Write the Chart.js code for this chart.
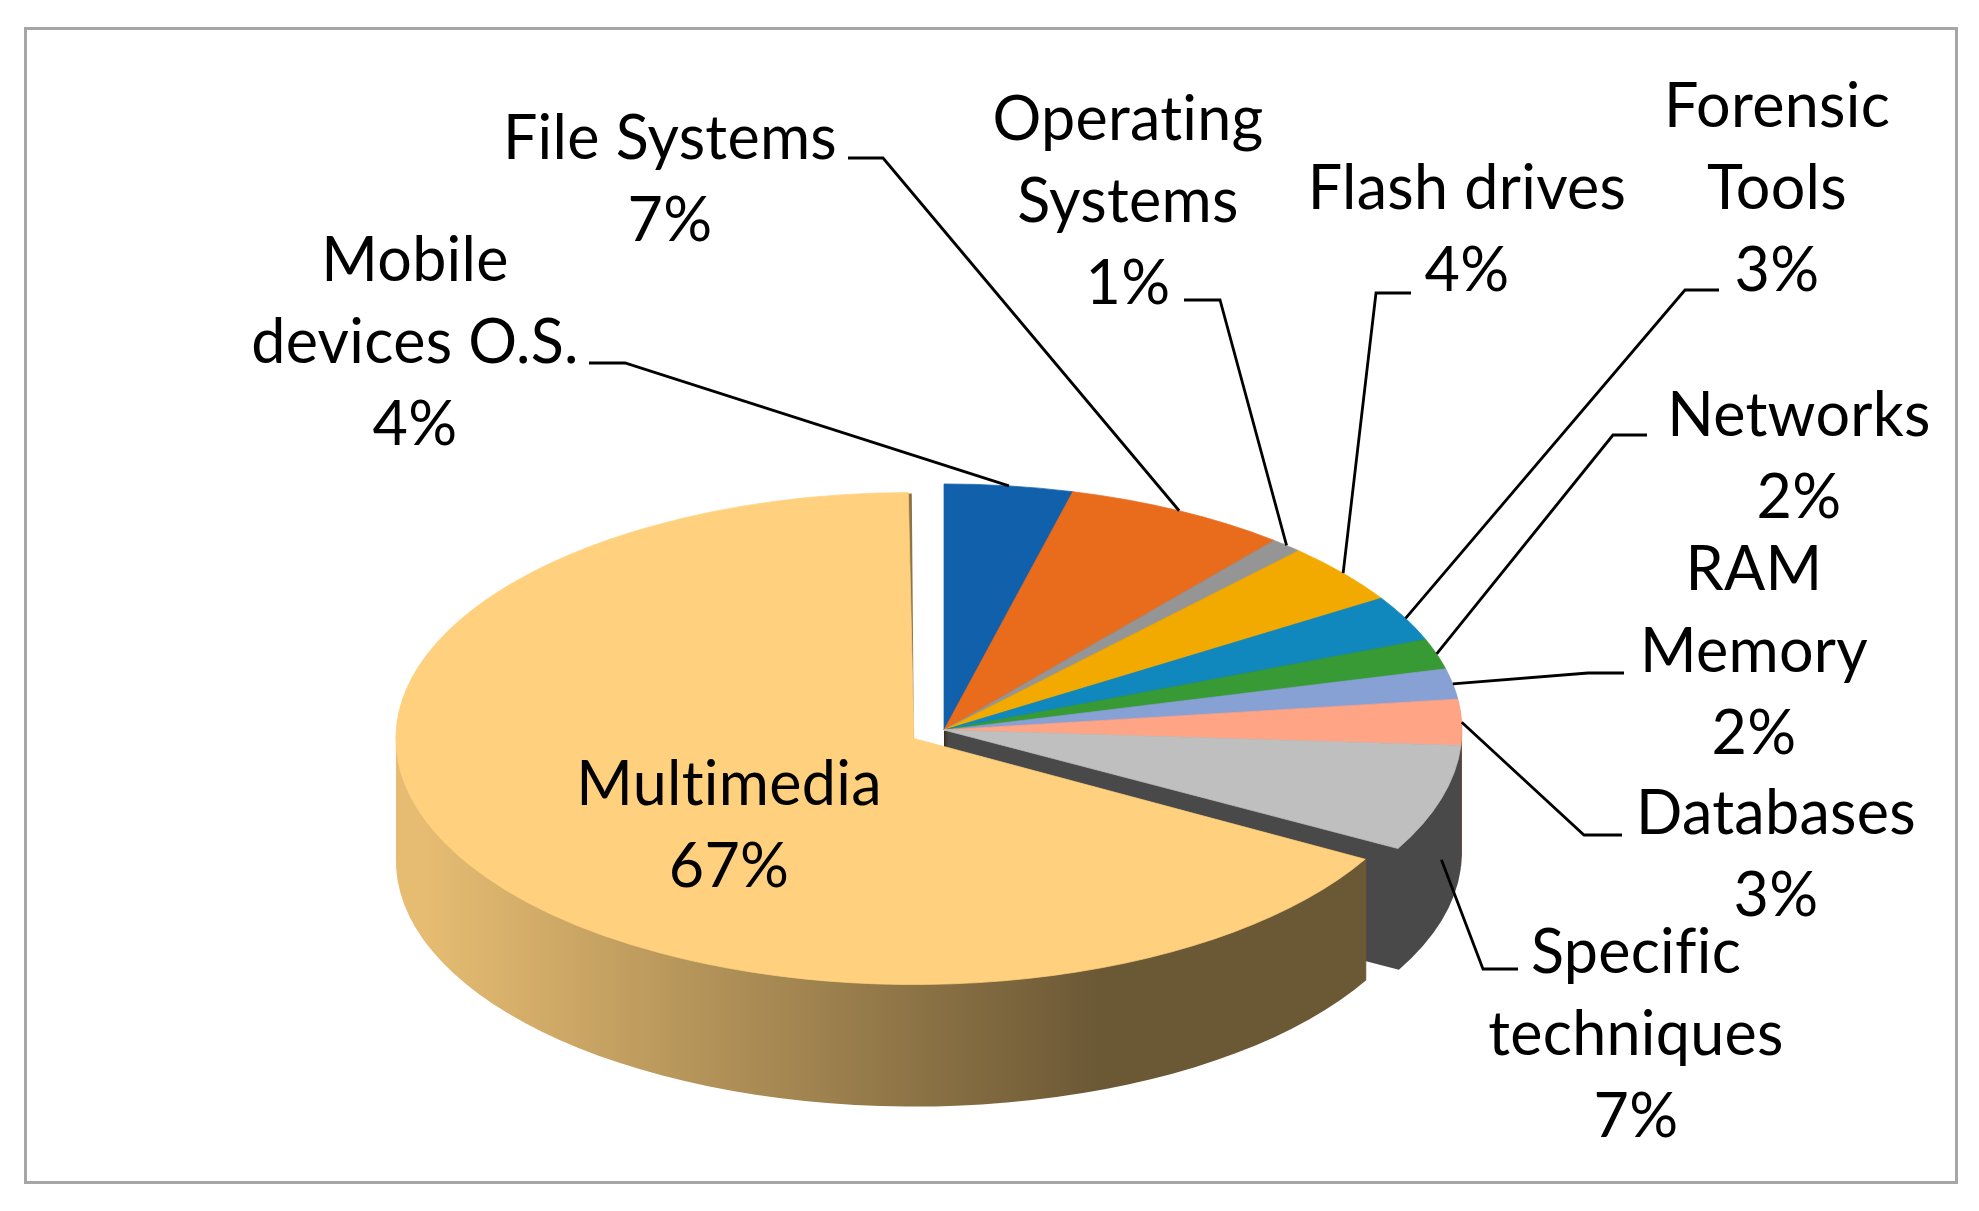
<!DOCTYPE html>
<html>
<head>
<meta charset="utf-8">
<title>Pie 3D</title>
<script src="https://cdn.jsdelivr.net/npm/chart.js@4.4.1/dist/chart.umd.min.js"></script>
<style>
  html, body { margin: 0; padding: 0; background: #fff; }
  #wrap { position: relative; width: 1979px; height: 1211px; }
  #frame {
    position: absolute; left: 24px; top: 27px; width: 1934px; height: 1157px;
    border: 3px solid #a6a6a6; box-sizing: border-box; pointer-events: none;
  }
</style>
</head>
<body>
<div id="wrap">
  <canvas id="pieChart"></canvas>
  <div id="frame"></div>
</div>
<script>
// Categories (split on the lines they are printed on) and their shares in %
const categories = [
    ['Mobile', 'devices O.S.'],
    ['File Systems'],
    ['Operating', 'Systems'],
    ['Flash drives'],
    ['Forensic', 'Tools'],
    ['Networks'],
    ['RAM', 'Memory'],
    ['Databases'],
    ['Specific', 'techniques'],
    ['Multimedia']
];
const shares = [4, 7, 1, 4, 3, 2, 2, 3, 7, 67];

const sliceColors = ['#1060AC', '#E96B1C', '#959595', '#F2AA00', '#1088BE',
                     '#389A34', '#87A1D4', '#FFA586', '#BFBFBF', '#FFD17F'];
const explode = [0, 0, 0, 0, 0, 0, 0, 0, 0, 140];

// where each label sits (centre x, centre of first line) and how its leader bends
const labelLayout = [
    { x: 415, y: 261, tail: 589, elbow: [625, 363] },
    { x: 670, y: 139, tail: 848, elbow: [883, 158] },
    { x: 1128, y: 120, tail: 1184, elbow: [1220, 300] },
    { x: 1467, y: 189, tail: 1411, elbow: [1376, 293] },
    { x: 1777, y: 107, tail: 1719, elbow: [1685, 290] },
    { x: 1799, y: 416, tail: 1647, elbow: [1613, 435] },
    { x: 1754, y: 570, tail: 1624, elbow: [1588, 673] },
    { x: 1776, y: 814, tail: 1622, elbow: [1584, 835] },
    { x: 1636, y: 953, tail: 1518, elbow: [1483, 969], drop: 0.5 },
    { x: 729, y: 785 }
];

const tilt = 0.475;   // vertical squash of the disc
const depth = 122;    // thickness of the disc on screen
const lineGap = 82;

function shade(hex, f) {
    const n = parseInt(hex.slice(1), 16);
    const r = Math.round(((n >> 16) & 255) * f);
    const g = Math.round(((n >> 8) & 255) * f);
    const b = Math.round((n & 255) * f);
    return `rgb(${r},${g},${b})`;
}

// centre and radius an arc is really drawn with (chart.js shifts exploded arcs by offset/4)
function arcGeom(arc) {
    const off = (arc.options.offset || 0) / 4;
    const fix = 1 - Math.sin(Math.min(Math.PI, arc.circumference || 0));
    const mid = (arc.startAngle + arc.endAngle) / 2;
    return {
        x: arc.x + Math.cos(mid) * off,
        y: arc.y + Math.sin(mid) * off,
        r: arc.outerRadius + off * fix,
        mid: mid
    };
}

const tiltPlugin = {
    id: 'tilt',
    afterDatasetsUpdate(chart) {
        // keep exploded slices the same size as the rest
        chart.getDatasetMeta(0).data.forEach(arc => {
            const off = (arc.options.offset || 0) / 4;
            const fix = 1 - Math.sin(Math.min(Math.PI, arc.circumference || 0));
            arc.outerRadius -= off * fix;
        });
    },
    beforeDatasetsDraw(chart) {
        const ctx = chart.ctx;
        const arcs = chart.getDatasetMeta(0).data;
        const cy = arcs[0].y;
        const cx = arcs[0].x;
        const R = arcs[0].outerRadius;
        const eps = 0.004;
        ctx.save();
        ctx.translate(0, cy * (1 - tilt));
        ctx.scale(1, tilt);

        // side walls, back slices first; one path per slice so edges stay clean
        arcs.forEach((arc, i) => {
            const g = arcGeom(arc);
            let fill;
            if (explode[i] > 0) {
                fill = ctx.createLinearGradient(cx - R, 0, cx + 0.3 * R, 0);
                fill.addColorStop(0, shade(sliceColors[i], 0.9));
                fill.addColorStop(1, shade(sliceColors[i], 0.42));
            } else {
                fill = shade(sliceColors[i], 0.38);
            }
            ctx.fillStyle = fill;
            ctx.beginPath();
            for (let d = depth; d > 0; d -= 1) {
                const y = g.y + d / tilt;
                ctx.moveTo(g.x, y);
                ctx.arc(g.x, y, g.r, arc.startAngle + eps, arc.endAngle - eps);
                ctx.closePath();
            }
            ctx.fill('nonzero');
        });
    },
    afterDatasetsDraw(chart) {
        chart.ctx.restore();
    },
    afterDraw(chart) {
        const ctx = chart.ctx;
        const arcs = chart.getDatasetMeta(0).data;
        const cy = arcs[0].y;
        ctx.save();
        ctx.font = '61px Lato';
        ctx.letterSpacing = '0.3px';
        ctx.fillStyle = '#000';
        ctx.textAlign = 'center';
        ctx.textBaseline = 'middle';
        ctx.strokeStyle = '#000';
        ctx.lineWidth = 2.8;
        arcs.forEach((arc, i) => {
            const lay = labelLayout[i];
            const lines = [...categories[i], shares[i] + '%'];
            lines.forEach((t, j) => ctx.fillText(t, lay.x, lay.y + j * lineGap));
            if (!lay.elbow) return;
            const g = arcGeom(arc);
            const px = g.x + Math.cos(g.mid) * g.r;
            const fy = g.y + Math.sin(g.mid) * g.r;
            const py = cy + (fy - cy) * tilt + depth * (lay.drop || 0);
            ctx.beginPath();
            ctx.moveTo(lay.tail, lay.elbow[1]);
            ctx.lineTo(lay.elbow[0], lay.elbow[1]);
            ctx.lineTo(px, py);
            ctx.stroke();
        });
        ctx.restore();
    }
};

const ctx = document.getElementById('pieChart').getContext('2d');
new Chart(ctx, {
    type: 'pie',
    data: {
        labels: categories,
        datasets: [{
            data: shares,
            backgroundColor: sliceColors,
            borderColor: sliceColors,
            borderWidth: 1,
            offset: explode,
            radius: 518,
            clip: false
        }]
    },
    options: {
        responsive: true,
        maintainAspectRatio: false,
        animation: false,
        events: [],
        layout: { padding: { left: 0, right: 91, top: 249, bottom: 0 } },
        plugins: {
            legend: { display: false },
            tooltip: { enabled: false }
        }
    },
    plugins: [tiltPlugin]
});
</script>
</body>
</html>
